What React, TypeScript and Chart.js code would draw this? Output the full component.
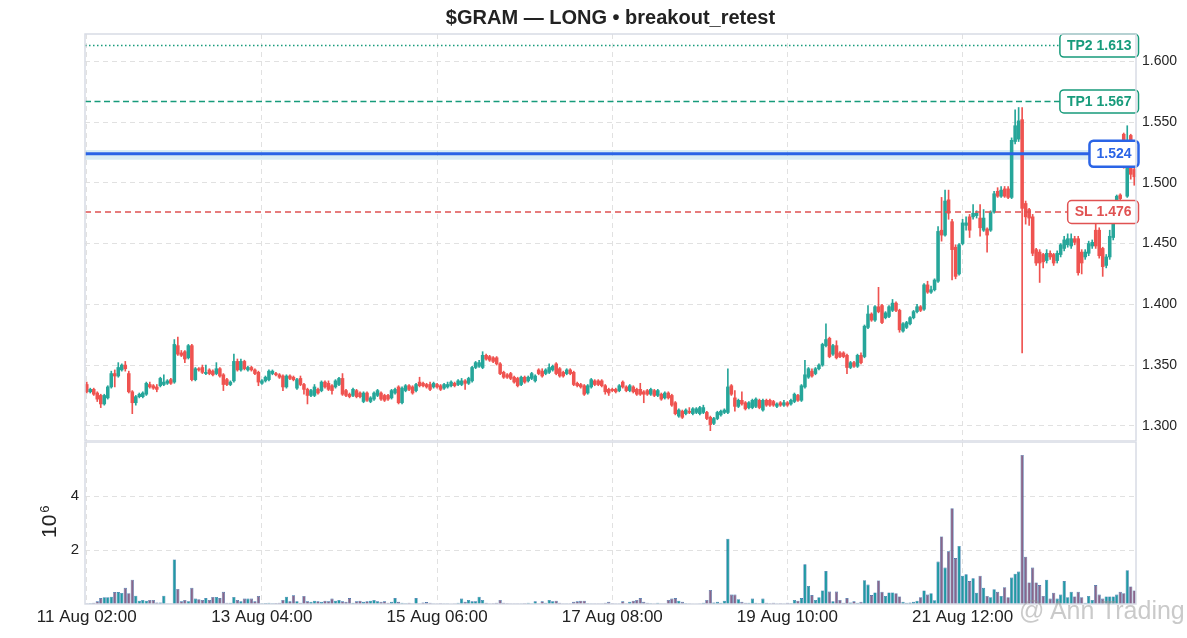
import React, { useEffect, useRef } from 'react';
import { Chart, registerables } from 'chart.js';

Chart.register(...registerables);

const FONT = "'Liberation Sans', Arial, sans-serif";
const TITLE = '$GRAM — LONG • breakout_retest';
const START_UTC = Date.UTC(2025, 7, 11, 2); // 11 Aug 02:00, hourly candles
const LABEL_STEP = 50;
const MONTHS = ['Jan', 'Feb', 'Mar', 'Apr', 'May', 'Jun', 'Jul', 'Aug', 'Sep', 'Oct', 'Nov', 'Dec'];

const OPEN = [
  1.334,1.328,1.330,1.327,1.325,1.318,1.323,1.332,1.343,1.341,
  1.346,1.350,1.343,1.328,1.319,1.324,1.324,1.326,1.334,1.333,
  1.332,1.333,1.334,1.335,1.338,1.336,1.366,1.360,1.361,1.356,
  1.366,1.338,1.347,1.348,1.343,1.346,1.345,1.343,1.347,1.342,
  1.338,1.334,1.337,1.353,1.346,1.353,1.346,1.348,1.346,1.344,
  1.335,1.337,1.338,1.343,1.343,1.342,1.341,1.332,1.341,1.340,
  1.331,1.339,1.334,1.330,1.325,1.325,1.330,1.329,1.336,1.335,
  1.333,1.332,1.334,1.339,1.329,1.326,1.325,1.329,1.327,1.320,
  1.327,1.320,1.322,1.325,1.327,1.325,1.325,1.323,1.327,1.332,
  1.319,1.329,1.333,1.332,1.329,1.336,1.335,1.334,1.334,1.332,
  1.334,1.333,1.331,1.332,1.333,1.335,1.334,1.334,1.337,1.335,
  1.337,1.348,1.349,1.348,1.358,1.357,1.356,1.356,1.351,1.344,
  1.342,1.343,1.340,1.339,1.334,1.340,1.337,1.339,1.337,1.346,
  1.345,1.343,1.344,1.346,1.351,1.347,1.344,1.343,1.346,1.344,
  1.335,1.334,1.333,1.327,1.332,1.337,1.337,1.337,1.333,1.330,
  1.330,1.330,1.329,1.336,1.332,1.329,1.332,1.330,1.330,1.328,
  1.329,1.326,1.329,1.325,1.326,1.323,1.327,1.325,1.319,1.308,
  1.312,1.310,1.312,1.310,1.311,1.310,1.311,1.311,1.307,1.302,
  1.306,1.309,1.311,1.311,1.333,1.323,1.316,1.321,1.319,1.315,
  1.315,1.316,1.321,1.313,1.321,1.321,1.320,1.316,1.319,1.317,
  1.319,1.318,1.320,1.325,1.321,1.332,1.340,1.345,1.343,1.347,
  1.350,1.366,1.372,1.359,1.366,1.360,1.360,1.358,1.348,1.352,
  1.349,1.358,1.357,1.381,1.392,1.387,1.398,1.399,1.389,1.390,
  1.395,1.401,1.395,1.378,1.381,1.384,1.389,1.394,1.398,1.396,
  1.416,1.410,1.412,1.419,1.461,1.457,1.486,1.468,1.447,1.425,
  1.450,1.465,1.472,1.472,1.473,1.471,1.461,1.462,1.461,1.476,
  1.493,1.489,1.495,1.495,1.488,1.534,1.536,1.552,1.483,1.478,
  1.472,1.445,1.443,1.441,1.436,1.442,1.441,1.436,1.441,1.446,
  1.449,1.448,1.454,1.454,1.443,1.439,1.442,1.448,1.461,1.461,
  1.446,1.432,1.439,1.455,1.472,1.490,1.540,1.489,1.539,1.511,
];
const HIGH = [
  1.336,1.331,1.331,1.328,1.326,1.326,1.333,1.345,1.346,1.352,
  1.351,1.353,1.345,1.329,1.325,1.327,1.328,1.336,1.336,1.334,
  1.334,1.340,1.342,1.338,1.339,1.371,1.373,1.362,1.362,1.367,
  1.367,1.348,1.348,1.350,1.350,1.347,1.346,1.352,1.348,1.343,
  1.339,1.337,1.359,1.355,1.355,1.354,1.349,1.349,1.347,1.345,
  1.338,1.341,1.346,1.346,1.344,1.343,1.342,1.342,1.342,1.341,
  1.339,1.341,1.335,1.331,1.330,1.334,1.331,1.337,1.337,1.337,
  1.334,1.338,1.340,1.343,1.330,1.327,1.331,1.330,1.328,1.328,
  1.328,1.324,1.328,1.330,1.328,1.326,1.326,1.330,1.331,1.333,
  1.332,1.334,1.334,1.333,1.335,1.340,1.336,1.335,1.336,1.336,
  1.335,1.334,1.335,1.336,1.337,1.336,1.338,1.339,1.338,1.340,
  1.349,1.353,1.354,1.361,1.359,1.358,1.357,1.357,1.352,1.345,
  1.343,1.344,1.341,1.340,1.341,1.341,1.341,1.344,1.342,1.347,
  1.347,1.347,1.351,1.350,1.352,1.348,1.345,1.347,1.347,1.345,
  1.336,1.335,1.334,1.334,1.339,1.338,1.338,1.338,1.334,1.331,
  1.331,1.331,1.334,1.337,1.333,1.334,1.333,1.331,1.335,1.329,
  1.330,1.331,1.330,1.330,1.327,1.328,1.328,1.326,1.320,1.314,
  1.313,1.314,1.315,1.315,1.315,1.316,1.317,1.312,1.308,1.307,
  1.312,1.313,1.314,1.347,1.334,1.329,1.322,1.328,1.320,1.320,
  1.322,1.323,1.322,1.322,1.322,1.322,1.321,1.319,1.320,1.321,
  1.320,1.322,1.327,1.326,1.334,1.354,1.348,1.347,1.348,1.351,
  1.368,1.384,1.373,1.367,1.370,1.361,1.361,1.359,1.353,1.353,
  1.359,1.360,1.383,1.399,1.393,1.399,1.414,1.400,1.394,1.399,
  1.404,1.402,1.396,1.385,1.386,1.390,1.395,1.400,1.399,1.417,
  1.419,1.415,1.421,1.464,1.488,1.494,1.494,1.470,1.449,1.450,
  1.470,1.472,1.474,1.482,1.477,1.482,1.478,1.463,1.477,1.493,
  1.496,1.497,1.497,1.497,1.537,1.560,1.562,1.562,1.485,1.479,
  1.474,1.446,1.445,1.442,1.445,1.444,1.442,1.444,1.450,1.456,
  1.458,1.458,1.456,1.456,1.445,1.445,1.452,1.453,1.466,1.463,
  1.447,1.441,1.461,1.474,1.490,1.491,1.541,1.547,1.540,1.513,
];
const LOW = [
  1.327,1.327,1.325,1.320,1.315,1.317,1.322,1.331,1.332,1.340,
  1.345,1.345,1.327,1.310,1.317,1.323,1.323,1.325,1.331,1.330,
  1.328,1.332,1.333,1.334,1.334,1.335,1.358,1.357,1.352,1.355,
  1.337,1.337,1.345,1.343,1.342,1.342,1.341,1.342,1.340,1.329,
  1.333,1.333,1.336,1.345,1.345,1.346,1.345,1.345,1.342,1.333,
  1.334,1.336,1.337,1.342,1.341,1.339,1.329,1.331,1.338,1.337,
  1.330,1.333,1.326,1.318,1.324,1.324,1.326,1.328,1.331,1.329,
  1.326,1.331,1.333,1.325,1.324,1.323,1.324,1.323,1.323,1.319,
  1.320,1.319,1.321,1.324,1.321,1.320,1.321,1.322,1.326,1.318,
  1.318,1.328,1.329,1.326,1.328,1.332,1.332,1.331,1.329,1.331,
  1.331,1.329,1.330,1.331,1.332,1.332,1.333,1.333,1.330,1.334,
  1.336,1.347,1.348,1.347,1.354,1.353,1.352,1.350,1.342,1.339,
  1.339,1.338,1.335,1.332,1.333,1.335,1.336,1.338,1.336,1.342,
  1.340,1.342,1.343,1.345,1.342,1.340,1.340,1.342,1.342,1.333,
  1.332,1.331,1.325,1.326,1.331,1.333,1.333,1.332,1.326,1.325,
  1.328,1.327,1.328,1.331,1.328,1.328,1.327,1.325,1.325,1.319,
  1.325,1.325,1.324,1.324,1.321,1.322,1.322,1.316,1.309,1.307,
  1.306,1.309,1.310,1.309,1.310,1.309,1.310,1.305,1.296,1.301,
  1.305,1.308,1.310,1.310,1.325,1.312,1.315,1.317,1.313,1.314,
  1.314,1.315,1.314,1.312,1.316,1.316,1.316,1.315,1.316,1.316,
  1.316,1.317,1.319,1.320,1.320,1.331,1.339,1.340,1.342,1.346,
  1.349,1.365,1.356,1.358,1.355,1.356,1.356,1.343,1.347,1.348,
  1.348,1.351,1.356,1.380,1.386,1.386,1.393,1.384,1.388,1.389,
  1.394,1.394,1.377,1.377,1.380,1.383,1.388,1.393,1.394,1.395,
  1.409,1.409,1.411,1.418,1.452,1.456,1.470,1.420,1.421,1.424,
  1.449,1.461,1.455,1.470,1.471,1.456,1.460,1.443,1.460,1.475,
  1.488,1.488,1.488,1.487,1.487,1.532,1.534,1.360,1.466,1.465,
  1.440,1.432,1.418,1.430,1.434,1.437,1.432,1.434,1.439,1.444,
  1.447,1.446,1.449,1.424,1.425,1.437,1.440,1.446,1.446,1.438,
  1.423,1.430,1.437,1.453,1.470,1.486,1.512,1.488,1.503,1.498,
];
const CLOSE = [
  1.328,1.330,1.326,1.322,1.318,1.325,1.332,1.343,1.341,1.348,
  1.350,1.347,1.328,1.319,1.324,1.326,1.327,1.335,1.332,1.331,
  1.330,1.339,1.336,1.337,1.335,1.367,1.359,1.358,1.355,1.366,
  1.338,1.347,1.346,1.344,1.344,1.343,1.342,1.347,1.341,1.334,
  1.334,1.336,1.353,1.346,1.353,1.347,1.348,1.346,1.343,1.336,
  1.337,1.340,1.345,1.345,1.342,1.340,1.332,1.341,1.339,1.338,
  1.338,1.334,1.330,1.325,1.329,1.332,1.327,1.336,1.332,1.330,
  1.329,1.337,1.339,1.326,1.325,1.324,1.330,1.324,1.324,1.327,
  1.321,1.323,1.327,1.329,1.322,1.321,1.322,1.329,1.330,1.319,
  1.331,1.333,1.330,1.327,1.334,1.333,1.333,1.332,1.330,1.335,
  1.332,1.330,1.334,1.334,1.336,1.333,1.337,1.337,1.335,1.339,
  1.348,1.352,1.352,1.358,1.355,1.354,1.353,1.351,1.343,1.340,
  1.340,1.339,1.336,1.333,1.340,1.336,1.340,1.343,1.341,1.343,
  1.341,1.346,1.348,1.349,1.343,1.341,1.341,1.346,1.343,1.334,
  1.333,1.332,1.326,1.333,1.338,1.334,1.334,1.333,1.328,1.327,
  1.329,1.328,1.333,1.332,1.329,1.333,1.328,1.326,1.326,1.326,
  1.326,1.330,1.325,1.329,1.322,1.327,1.323,1.317,1.310,1.313,
  1.307,1.313,1.311,1.314,1.314,1.315,1.315,1.306,1.301,1.306,
  1.311,1.312,1.313,1.332,1.326,1.316,1.321,1.318,1.314,1.319,
  1.321,1.322,1.315,1.321,1.317,1.317,1.317,1.318,1.317,1.319,
  1.317,1.321,1.326,1.321,1.333,1.342,1.347,1.341,1.347,1.350,
  1.367,1.371,1.357,1.366,1.356,1.357,1.357,1.348,1.352,1.349,
  1.358,1.352,1.382,1.392,1.387,1.398,1.394,1.385,1.393,1.398,
  1.401,1.395,1.379,1.384,1.385,1.389,1.394,1.398,1.395,1.416,
  1.410,1.412,1.420,1.460,1.457,1.485,1.475,1.445,1.423,1.449,
  1.467,1.467,1.461,1.475,1.475,1.463,1.471,1.457,1.476,1.491,
  1.489,1.494,1.489,1.488,1.535,1.547,1.551,1.479,1.472,1.471,
  1.442,1.434,1.434,1.435,1.442,1.439,1.434,1.442,1.449,1.453,
  1.454,1.454,1.451,1.426,1.434,1.443,1.450,1.451,1.448,1.440,
  1.431,1.439,1.456,1.472,1.489,1.487,1.515,1.512,1.507,1.505,
];
// volume in millions
const VOLUME_M = [
  0.02,0.03,0.05,0.10,0.22,0.25,0.25,0.27,0.44,0.44,
  0.41,0.60,0.40,0.90,0.31,0.12,0.15,0.12,0.15,0.15,
  0.06,0.06,0.31,0.02,0.02,1.65,0.56,0.10,0.15,0.10,
  0.60,0.20,0.18,0.15,0.22,0.15,0.26,0.26,0.22,0.45,
  0.05,0.05,0.26,0.15,0.10,0.20,0.20,0.20,0.10,0.30,
  0.03,0.04,0.05,0.03,0.04,0.05,0.15,0.27,0.10,0.32,
  0.10,0.05,0.30,0.10,0.08,0.12,0.10,0.08,0.12,0.10,
  0.20,0.12,0.15,0.10,0.08,0.22,0.05,0.10,0.12,0.08,
  0.10,0.12,0.15,0.10,0.08,0.10,0.05,0.08,0.22,0.08,
  0.05,0.03,0.05,0.02,0.22,0.02,0.06,0.07,0.05,0.02,
  0.02,0.03,0.02,0.02,0.01,0.02,0.05,0.20,0.08,0.15,
  0.10,0.10,0.27,0.15,0.05,0.02,0.03,0.05,0.15,0.05,
  0.03,0.02,0.02,0.02,0.02,0.03,0.05,0.02,0.10,0.02,
  0.10,0.05,0.15,0.10,0.12,0.05,0.02,0.02,0.02,0.08,
  0.10,0.12,0.12,0.03,0.02,0.02,0.02,0.02,0.05,0.08,
  0.03,0.02,0.02,0.10,0.02,0.08,0.12,0.15,0.22,0.08,
  0.05,0.03,0.02,0.05,0.02,0.02,0.15,0.20,0.22,0.12,
  0.08,0.03,0.02,0.01,0.01,0.02,0.05,0.15,0.52,0.06,
  0.08,0.05,0.12,2.42,0.35,0.35,0.18,0.08,0.05,0.05,
  0.20,0.05,0.03,0.20,0.05,0.03,0.05,0.02,0.03,0.02,
  0.05,0.03,0.15,0.12,0.22,1.47,0.67,0.33,0.15,0.25,
  0.50,1.22,0.46,0.10,0.46,0.15,0.05,0.22,0.06,0.10,
  0.05,0.08,0.88,0.72,0.33,0.43,0.87,0.45,0.30,0.43,
  0.43,0.40,0.28,0.08,0.05,0.06,0.08,0.12,0.25,0.50,
  0.35,0.40,0.14,1.57,2.50,1.35,1.95,3.55,1.70,2.15,
  1.05,1.10,0.85,0.95,0.42,1.05,0.60,0.30,0.25,0.55,
  0.45,0.30,0.62,0.25,0.98,1.12,1.20,5.52,1.75,0.80,
  1.35,0.80,0.70,0.30,0.90,0.20,0.42,0.20,0.35,0.85,
  0.25,0.45,0.28,0.45,0.25,0.05,0.30,0.15,0.70,0.35,
  0.20,0.28,0.28,0.28,0.35,0.45,0.40,1.25,0.65,0.50,
];

const PRICE_TICKS = [1.30, 1.35, 1.40, 1.45, 1.50, 1.55, 1.60];
const PRICE_MIN = 1.2875;
const PRICE_MAX = 1.6225;
const VOLUME_TICKS = [2, 4];
const VOLUME_MAX = 6;

const TP2 = 1.613;
const TP1 = 1.567;
const ENTRY = 1.524;
const SL = 1.476;
const ENTRY_ZONE = [1.519, 1.527];

const LABELS = OPEN.map((_, i) => {
  const d = new Date(START_UTC + i * 3600000);
  return `${d.getUTCDate()} ${MONTHS[d.getUTCMonth()]} ${String(d.getUTCHours()).padStart(2, '0')}:00`;
});

const UP = '#26a69a';
const DOWN = '#ef5350';
const VOL_UP = '#2199a4';
const VOL_DOWN = '#88668c';
const VOL_EDGE = '#2d6aa6';
const TEAL = '#179b7b';
const BLUE = '#2a64e6';
const RED = '#e05252';
const GRID = '#e1e1e1';
const FRAME = '#d8dbe5';

function tagWidth(ctx: CanvasRenderingContext2D, text: string) {
  ctx.font = `bold 14px ${FONT}`;
  return ctx.measureText(text).width + 14;
}

function drawTag(ctx: CanvasRenderingContext2D, text: string, right: number, yc: number, color: string, h: number, lw: number) {
  const w = tagWidth(ctx, text);
  const x = right - w;
  const y = yc - h / 2;
  ctx.save();
  ctx.beginPath();
  if ((ctx as any).roundRect) (ctx as any).roundRect(x, y, w, h, 4);
  else ctx.rect(x, y, w, h);
  ctx.fillStyle = '#ffffff';
  ctx.fill();
  ctx.lineWidth = lw;
  ctx.strokeStyle = color;
  ctx.stroke();
  ctx.fillStyle = color;
  ctx.font = `bold 14px ${FONT}`;
  ctx.textAlign = 'center';
  ctx.textBaseline = 'middle';
  ctx.fillText(text, x + w / 2, yc + 0.5);
  ctx.restore();
  return x;
}

const pricePlugin = {
  id: 'priceDecor',
  beforeDatasetsDraw(chart: any) {
    const { ctx, chartArea: a, scales } = chart;
    const y = scales.y;
    const top = y.getPixelForValue(ENTRY_ZONE[1]);
    const bot = y.getPixelForValue(ENTRY_ZONE[0]);
    ctx.save();
    ctx.fillStyle = 'rgba(160, 210, 228, 0.4)';
    ctx.fillRect(a.left, top, a.right - a.left, bot - top);
    ctx.restore();
  },
  afterDatasetsDraw(chart: any) {
    const { ctx, chartArea: a, scales } = chart;
    const y = scales.y;
    const right = a.right + 2.5;
    const levels = [
      { v: TP2, text: `TP2 ${TP2.toFixed(3)}`, color: TEAL, dash: [1.5, 2.5], lw: 1.5, h: 23, blw: 1.5 },
      { v: TP1, text: `TP1 ${TP1.toFixed(3)}`, color: TEAL, dash: [6, 3.5], lw: 1.5, h: 23, blw: 1.5 },
      { v: ENTRY, text: ENTRY.toFixed(3), color: BLUE, dash: [], lw: 3, h: 26, blw: 2.5 },
      { v: SL, text: `SL ${SL.toFixed(3)}`, color: RED, dash: [6, 4], lw: 1.5, h: 23, blw: 1.5 },
    ];
    levels.forEach((l) => {
      const py = y.getPixelForValue(l.v);
      const w = tagWidth(ctx, l.text);
      ctx.save();
      ctx.strokeStyle = l.color;
      ctx.lineWidth = l.lw;
      ctx.setLineDash(l.dash);
      ctx.beginPath();
      ctx.moveTo(a.left, py);
      ctx.lineTo(right - w, py);
      ctx.stroke();
      ctx.restore();
    });
    levels.forEach((l) => {
      drawTag(ctx, l.text, right, y.getPixelForValue(l.v), l.color, l.h, l.blw);
    });
    ctx.save();
    ctx.strokeStyle = FRAME;
    ctx.lineWidth = 1.5;
    ctx.strokeRect(a.left, a.top, a.right - a.left, a.bottom - a.top);
    ctx.fillStyle = '#222';
    ctx.font = `bold 20px ${FONT}`;
    ctx.textAlign = 'center';
    ctx.textBaseline = 'middle';
    ctx.fillText(TITLE, (a.left + a.right) / 2, 18);
    ctx.restore();
  },
};

const volumePlugin = {
  id: 'volumeDecor',
  afterDraw(chart: any) {
    const { ctx, chartArea: a } = chart;
    ctx.save();
    ctx.strokeStyle = FRAME;
    ctx.lineWidth = 1.5;
    ctx.strokeRect(a.left, a.top, a.right - a.left, a.bottom - a.top);
    ctx.translate(56, 97);
    ctx.rotate(-Math.PI / 2);
    ctx.fillStyle = '#222';
    ctx.textAlign = 'left';
    ctx.textBaseline = 'alphabetic';
    ctx.font = `21px ${FONT}`;
    ctx.fillText('10', 0, 0);
    const w = ctx.measureText('10').width;
    ctx.font = `13px ${FONT}`;
    ctx.fillText('6', w + 2, -7);
    ctx.restore();
  },
};

const noPad = (s: any) => {
  s.paddingTop = 0;
  s.paddingBottom = 0;
};

export default function App() {
  const priceRef = useRef<HTMLCanvasElement>(null);
  const volRef = useRef<HTMLCanvasElement>(null);

  useEffect(() => {
    Chart.defaults.font.family = FONT;
    Chart.defaults.color = '#262626';
    const isUp = CLOSE.map((c, i) => c >= OPEN[i]);
    const candleColors = isUp.map((u) => (u ? UP : DOWN));
    const volColors = isUp.map((u) => (u ? VOL_UP : VOL_DOWN));
    const wicks = LOW.map((l, i) => [l, HIGH[i]]);
    const bodies = OPEN.map((o, i) => [Math.min(o, CLOSE[i]), Math.max(o, CLOSE[i])]);
    const xGridColor = (c: any) => (c.index % LABEL_STEP === 0 ? GRID : 'rgba(0,0,0,0)');

    const price = new Chart(priceRef.current as HTMLCanvasElement, {
      type: 'bar',
      data: {
        labels: LABELS,
        datasets: [
          { data: bodies as any, backgroundColor: candleColors, barThickness: 2.9, grouped: false, minBarLength: 1, order: 1, borderWidth: 0 } as any,
          { data: wicks as any, backgroundColor: candleColors, barThickness: 1, grouped: false, order: 2, borderWidth: 0 } as any,
        ],
      },
      options: {
        animation: false,
        responsive: true,
        maintainAspectRatio: false,
        events: [],
        layout: { padding: { left: 85, top: 34, right: 0, bottom: 0 } },
        plugins: { legend: { display: false }, tooltip: { enabled: false }, title: { display: false } },
        scales: {
          x: {
            offset: true,
            grid: { offset: false, drawTicks: false, color: xGridColor, lineWidth: 1 },
            border: { display: false, dash: [5, 4] },
            ticks: { display: false, autoSkip: false },
            afterFit: (s: any) => { s.height = 0; s.paddingLeft = 0; s.paddingRight = 0; },
          },
          y: {
            position: 'right',
            min: PRICE_MIN,
            max: PRICE_MAX,
            afterBuildTicks: (s: any) => { s.ticks = PRICE_TICKS.map((v) => ({ value: v })); },
            ticks: { padding: 6, font: { size: 14 }, color: '#262626', callback: (v: any) => Number(v).toFixed(3) },
            grid: { drawTicks: false, color: GRID },
            border: { display: false, dash: [5, 4] },
            afterFit: (s: any) => { s.width = 51; noPad(s); },
          },
        },
      } as any,
      plugins: [pricePlugin],
    });

    const volume = new Chart(volRef.current as HTMLCanvasElement, {
      type: 'bar',
      data: {
        labels: LABELS,
        datasets: [
          {
            data: VOLUME_M,
            backgroundColor: volColors,
            borderColor: VOL_EDGE,
            borderWidth: 0.6,
            barPercentage: 0.92,
            categoryPercentage: 1,
          } as any,
        ],
      },
      options: {
        animation: false,
        responsive: true,
        maintainAspectRatio: false,
        events: [],
        layout: { padding: { left: 0, top: 1, right: 51, bottom: 0 } },
        plugins: { legend: { display: false }, tooltip: { enabled: false }, title: { display: false } },
        scales: {
          x: {
            offset: true,
            grid: { offset: false, drawTicks: false, color: xGridColor, lineWidth: 1 },
            border: { display: false, dash: [5, 4] },
            ticks: {
              autoSkip: false,
              maxRotation: 0,
              minRotation: 0,
              padding: 3,
              font: { size: 17 },
              color: '#222',
              callback: (_v: any, idx: number) => (idx % LABEL_STEP === 0 ? LABELS[idx] : ''),
            },
            afterFit: (s: any) => { s.height = 34; s.paddingLeft = 0; s.paddingRight = 0; },
          },
          y: {
            position: 'left',
            min: 0,
            max: VOLUME_MAX,
            afterBuildTicks: (s: any) => { s.ticks = VOLUME_TICKS.map((v) => ({ value: v })); },
            ticks: { padding: 6, font: { size: 15 }, color: '#222' },
            grid: { drawTicks: false, color: GRID },
            border: { display: false, dash: [5, 4] },
            afterFit: (s: any) => { s.width = 85; noPad(s); },
          },
        },
      } as any,
      plugins: [volumePlugin],
    });

    return () => {
      price.destroy();
      volume.destroy();
    };
  }, []);

  return (
    <div style={{ position: 'absolute', left: 0, top: 0, width: 1187, height: 638, background: '#ffffff', overflow: 'hidden' }}>
      <div style={{ position: 'absolute', left: 0, top: 0, width: 1187, height: 441 }}>
        <canvas ref={priceRef} />
      </div>
      <div style={{ position: 'absolute', left: 0, top: 441, width: 1187, height: 197 }}>
        <canvas ref={volRef} />
      </div>
      <div
        style={{
          position: 'absolute',
          left: 1019,
          top: 598,
          fontFamily: FONT,
          fontSize: 25,
          lineHeight: 1,
          color: 'rgba(150,150,150,0.5)',
          whiteSpace: 'nowrap',
          pointerEvents: 'none',
        }}
      >
        @ Ann Trading
      </div>
    </div>
  );
}
